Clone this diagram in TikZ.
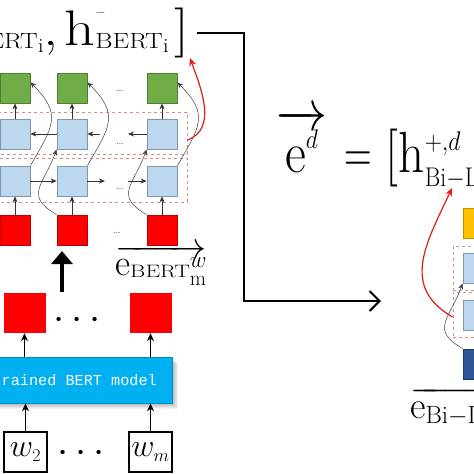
\RequirePackage{fix-cm}
\documentclass[tikz,border=0pt]{standalone}
\usepackage{fontspec}
\newfontfamily\courfont{Liberation Mono}
\usetikzlibrary{arrows.meta}
\DeclareMathSizes{58}{58}{27}{24}
\DeclareMathSizes{38}{38}{23}{20}
\DeclareMathSizes{32}{32}{18}{14}
\newcommand{\myfs}[1]{\fontsize{#1}{#1}\selectfont}
\definecolor{gfill}{HTML}{70AD47}\definecolor{gdraw}{HTML}{507E32}
\definecolor{bfill}{HTML}{BDD7EE}\definecolor{bdraw}{HTML}{7F97B5}
\definecolor{rfill}{HTML}{FF0000}\definecolor{rdraw}{HTML}{C00000}
\definecolor{yfill}{HTML}{FFC000}\definecolor{ydraw}{HTML}{BF9000}
\definecolor{dfill}{HTML}{2F5597}\definecolor{ddraw}{HTML}{1F3864}
\definecolor{dashcol}{HTML}{D98C8C}
\definecolor{bertblue}{HTML}{00B0F0}
\definecolor{curvered}{HTML}{E31A1C}
\tikzset{
  cellbase/.style={minimum width=30pt,minimum height=30pt,inner sep=0pt,line width=0.8pt},
  gcell/.style={cellbase,fill=gfill,draw=gdraw},
  bcell/.style={cellbase,fill=bfill,draw=bdraw},
  rcell/.style={cellbase,fill=rfill,draw=rdraw},
  ycell/.style={cellbase,fill=yfill,draw=ydraw},
  dcell/.style={cellbase,fill=dfill,draw=ddraw},
  dashbox/.style={draw=dashcol,dashed,line width=0.9pt,inner sep=0pt},
  sarrow/.style={draw=black!80,line width=0.7pt,-{Stealth[length=6pt,width=5pt]}},
  barrow/.style={draw=black,line width=0.9pt,-{Stealth[length=8pt,width=7pt]}},
  thincurve/.style={draw=black!75,line width=0.5pt,-{Stealth[length=6pt,width=5pt]}},
  redcurve/.style={draw=curvered,line width=1.2pt,-{Stealth[length=8pt,width=7pt]}},
  conn/.style={draw=black,line width=2pt,-{Straight Barb[length=10pt,width=20pt]}},
  bigred/.style={fill=rfill,draw=none,minimum width=42pt,minimum height=40pt,inner sep=0pt},
  wordbox/.style={draw=black,line width=2pt,fill=white,minimum width=43pt,minimum height=40pt,inner sep=0pt},
  smalldots/.style={anchor=base,inner sep=0pt,text=black!60,font=\fontsize{12}{12}\selectfont},
  bigdots/.style={anchor=base,inner sep=0pt,font=\fontsize{40}{40}\selectfont},
}
\begin{document}
\begin{tikzpicture}[x=1pt,y=-1pt]
\fill[white] (0,0) rectangle (474,474);
\useasboundingbox (0,0) rectangle (474,474);

% dashed groups (left)
\node[dashbox,minimum width=192pt,minimum height=42pt] (udash) at (91,133) {};
\node[dashbox,minimum width=192pt,minimum height=44pt] (ldash) at (91,180) {};

% cells
\foreach \i/\x in {1/15,2/72,3/162}{
  \node[gcell] (g\i) at (\x,88) {};
  \node[bcell] (ub\i) at (\x,134) {};
  \node[bcell] (lb\i) at (\x,181) {};
  \node[rcell] (r\i) at (\x,230) {};
}
\foreach \i in {1,2,3}{
  \draw[sarrow] (ub\i.north) -- (g\i.south);
  \draw[sarrow] (r\i.north) -- (lb\i.south);
  \draw[thincurve] (lb\i.north east) to[out=60,in=-45,looseness=1.4] (g\i.20);
  \draw[thincurve] (r\i.north west) to[out=150,in=-110,looseness=1.5] (ub\i.south west);
}
\coordinate (uf1) at (100,134);
\coordinate (uf2) at (128,134);
\coordinate (lf1) at (105,181);
\coordinate (lf2) at (128,181);
\draw[sarrow] (ub2.west) -- (ub1.east);
\draw[sarrow] (uf1) -- (ub2.east);
\draw[sarrow] (ub3.west) -- (uf2);
\draw[sarrow] (lb1.east) -- (lb2.west);
\draw[sarrow] (lb2.east) -- (lf1);
\draw[sarrow] (lf2) -- (lb3.west);

\node[smalldots] (d1) at (120,91) {\ldots};
\node[smalldots] (d2) at (120,144) {\ldots};
\node[smalldots] (d3) at (120,189) {\ldots};
\node[smalldots] (d4) at (117,233) {\ldots};

% labels under red cells
\node[anchor=base west,inner sep=0pt] (lab3) at (115,275)
  {\myfs{37}$\overrightarrow{\hbox{e\lower2pt\hbox{\scalebox{1.3}[1]{\myfs{18}BERT}\rlap{\raise10pt\hbox{\myfs{23}$w$}}\lower8pt\hbox{\myfs{21}m}}}}$};
\node[anchor=base east,inner sep=0pt] (lab1) at (2,275)
  {\myfs{37}$\overrightarrow{\hbox{e\lower2pt\hbox{\scalebox{1.3}[1]{\myfs{18}BERT}\rlap{\raise10pt\hbox{\myfs{23}$w$}}\lower8pt\hbox{\myfs{21}1}\kern8pt}}}$};

% top formula
\node[anchor=base east,inner sep=0pt] (topf) at (190,45)
  {\myfs{50}\scalebox{1.2}[1]{[h\rlap{\raise30pt\hbox{\myfs{11}$+$}}\lower3pt\hbox{\myfs{22}BERT\lower4pt\hbox{\myfs{20}i}},\kern5pt h\rlap{\raise30pt\hbox{\myfs{11}$-$}}\lower3pt\hbox{\myfs{22}BERT\lower4pt\hbox{\myfs{20}i}}\kern5pt]}};
\coordinate (toptip) at (190,58);
\draw[redcurve] ([yshift=-7pt]udash.east) to[out=20,in=-70] (toptip);

% big arrow
\coordinate (bigs) at (62,292);
\coordinate (bige) at (62,251);
\draw[line width=4pt,-{Triangle[length=13pt,width=21pt]}] (bigs) -- (bige);

% BERT block
\foreach \k in {1,...,6}{
  \fill[black,opacity=0.05] (-50+\k,357+\k) rectangle (172+\k,403+\k);
}
\node[fill=bertblue,draw=bertblue!80!black,line width=0.6pt,minimum width=222pt,minimum height=46pt,inner sep=0pt,
      text=white,font=\courfont\fontsize{15.2}{16}\selectfont] (bert) at (61,380) {Pretrained BERT model};

\node[bigred] (br1) at (24.5,313) {};
\node[bigred] (br2) at (150.5,313) {};
\node[bigdots] (bd1) at (77,329) {$\cdots$};

\node[wordbox] (w2) at (25.5,452) {\fontsize{32}{34}\selectfont$w_2$};
\node[wordbox] (wm) at (150.5,452) {\fontsize{32}{34}\selectfont$w_m$};
\node[bigdots] (bd2) at (81,462) {$\cdots$};

\draw[barrow] (w2.north) -- (w2.north |- bert.south);
\draw[barrow] (wm.north) -- (wm.north |- bert.south);
\draw[barrow] (br1.south |- bert.north) -- (br1.south);
\draw[barrow] (br2.south |- bert.north) -- (br2.south);

% connector to the right
\coordinate (corner) at (244,33);
\coordinate (tipR) at (381,301);
\draw[conn] ([xshift=7pt]topf.east |- corner) -- (corner) |- (tipR);

% right formula
\node[anchor=base west,inner sep=0pt] (rightf) at (276,172)
  {\fontsize{58}{62}\selectfont\scalebox{0.88}[1]{$\overrightarrow{\mathrm{e}^{d}}\mkern6mu\mathord{\scalebox{0.75}[1]{$=$}}\mkern5mu\mathord{[}\mathrm{h}^{+,d}_{\mathrm{Bi{-}LSTM}},\mathrm{h}^{-,d}_{\mathrm{Bi{-}LSTM}}]$}};

% right stack
\node[dashbox,minimum width=50pt,minimum height=44pt] (rdu) at (478,268) {};
\node[dashbox,minimum width=50pt,minimum height=45pt] (rdl) at (478,314.5) {};
\node[ycell] (yc) at (478,223) {};
\node[bcell] (rb1) at (478,268) {};
\node[bcell] (rb2) at (478,315) {};
\node[dcell] (db) at (478,364) {};
\draw[thincurve] (db.north west) to[out=150,in=-110,looseness=1.5] (rb1.south west);
\coordinate (righttip) at (452,188);
\draw[redcurve] ([yshift=-2.5pt]rdl.west) to[out=150,in=-115,looseness=1.2] (righttip);

\node[anchor=base west,inner sep=0pt] (labr) at (410,418)
  {\myfs{38}$\overrightarrow{\vrule height 18.5pt width 0pt\hbox{e\lower5pt\hbox{\myfs{25}Bi$-$LSTM}}}$};
\end{tikzpicture}
\end{document}
